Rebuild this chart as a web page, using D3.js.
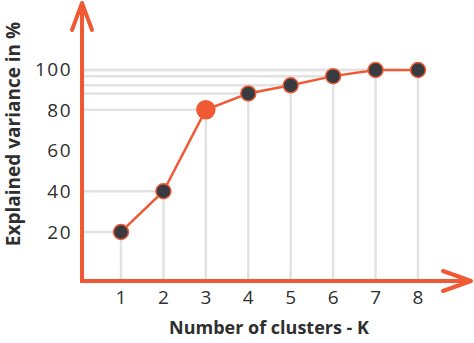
<!DOCTYPE html>
<html>
<head>
<meta charset="utf-8">
<script src="https://cdn.jsdelivr.net/npm/d3@7"></script>
<style>
  body { margin: 0; background: #fff; }
  text { font-family: "Open Sans", Lato, sans-serif; fill: #2f2f2f; }
</style>
</head>
<body>
<svg id="chart" width="474" height="343"></svg>
<script>
// data
const clusters = [1, 2, 3, 4, 5, 6, 7, 8];
const variance = [20, 40, 80, 88, 92, 96.5, 99.5, 99.5];
const yTicks = [20, 40, 60, 80, 100];
const elbowK = 3;

const orange = "#ef5a35";
const grid = "#e2e2e2";

const svg = d3.select("#chart");

const x = d3.scaleLinear().domain([1, 8]).range([121, 418]);
const y = d3.scaleLinear().domain([0, 100]).range([272.7, 69]);

const axisX = 82, axisY = 281;

// guide lines (horizontal from axis to point, vertical from point to axis)
const g = svg.append("g");
g.selectAll("line.h").data(clusters).join("line")
  .attr("x1", axisX).attr("x2", (d, i) => x(d))
  .attr("y1", (d, i) => y(variance[i])).attr("y2", (d, i) => y(variance[i]))
  .attr("stroke", grid).attr("stroke-width", 2.5);
g.selectAll("line.v").data(clusters).join("line")
  .attr("x1", d => x(d)).attr("x2", d => x(d))
  .attr("y1", (d, i) => y(variance[i])).attr("y2", axisY)
  .attr("stroke", grid).attr("stroke-width", 2.5);

// y tick labels
svg.selectAll("text.yt").data(yTicks).join("text")
  .attr("x", 72).attr("y", d => y(d))
  .attr("dy", "0.36em").attr("text-anchor", "end")
  .style("font-size", "19px").style("letter-spacing", "1.5px")
  .text(d => d);

// x tick labels
svg.selectAll("text.xt").data(clusters).join("text")
  .attr("x", d => x(d)).attr("y", 297)
  .attr("dy", "0.36em").attr("text-anchor", "middle")
  .style("font-size", "19px")
  .text(d => d);

// axes with arrows
svg.append("line").attr("x1", axisX).attr("x2", axisX).attr("y1", axisY + 2).attr("y2", 3)
  .attr("stroke", orange).attr("stroke-width", 4);
svg.append("path").attr("d", `M${axisX - 10},30 L${axisX},3 L${axisX + 10},30`)
  .attr("fill", "none").attr("stroke", orange).attr("stroke-width", 4)
  .attr("stroke-linejoin", "round").attr("stroke-linecap", "round");
svg.append("line").attr("x1", axisX - 2).attr("x2", 471).attr("y1", axisY).attr("y2", axisY)
  .attr("stroke", orange).attr("stroke-width", 4);
svg.append("path").attr("d", `M443,271 L471,${axisY} L443,291`)
  .attr("fill", "none").attr("stroke", orange).attr("stroke-width", 4)
  .attr("stroke-linejoin", "round").attr("stroke-linecap", "round");

// line
const line = d3.line().x((d, i) => x(clusters[i])).y(d => y(d));
svg.append("path").datum(variance)
  .attr("d", line).attr("fill", "none")
  .attr("stroke", orange).attr("stroke-width", 2.5);

// points
svg.selectAll("circle").data(clusters).join("circle")
  .attr("cx", d => x(d)).attr("cy", (d, i) => y(variance[i]))
  .attr("r", d => d === elbowK ? 9 : 7.5)
  .attr("fill", d => d === elbowK ? orange : "#373b3f")
  .attr("stroke", orange).attr("stroke-width", 1.5);

// axis titles
svg.append("text")
  .attr("transform", "translate(13,134) rotate(-90)")
  .attr("dy", "0.36em")
  .attr("text-anchor", "middle")
  .style("font-size", "19px").style("font-weight", "bold")
  .text("Explained variance in %");
svg.append("text")
  .attr("x", 269).attr("y", 334)
  .attr("text-anchor", "middle")
  .style("font-size", "18px").style("font-weight", "bold")
  .text("Number of clusters - K");
</script>
</body>
</html>
